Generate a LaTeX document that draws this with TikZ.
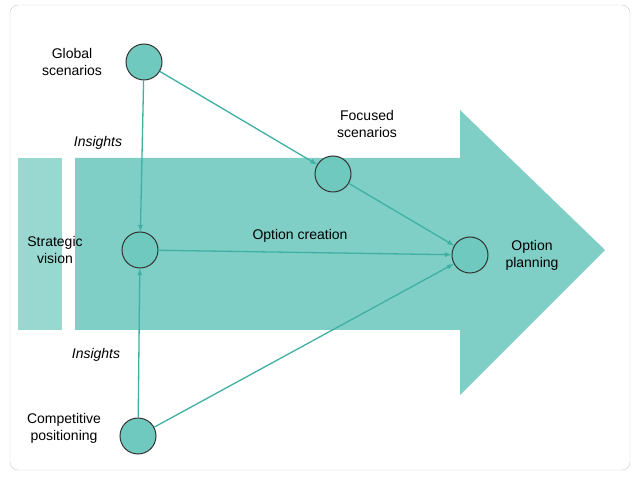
\documentclass[tikz,border=0pt]{standalone}
\usepackage{fontspec}
\setmainfont{Liberation Sans}
\begin{document}
\begin{tikzpicture}[x=1pt,y=-1pt,
  dot/.style={circle,minimum size=36pt,inner sep=0pt,fill=dotc,draw=black!80,line width=1pt},
  lbl/.style={align=center,font=\fontsize{14}{17}\selectfont},
  conn/.style={draw=linec,line width=1.3pt,-latex}]
\definecolor{arr}{HTML}{7FCFC6}
\definecolor{dotc}{HTML}{6FC9BF}
\definecolor{linec}{HTML}{3FB0A3}
\useasboundingbox (0,0) rectangle (638,478);
\fill[white] (0,0) rectangle (638,478);
\draw[black!20,rounded corners=8pt] (10,5) rectangle (630,470);
\fill[arr!80] (18,158) rectangle (62,330);
\fill[arr] (75,158) -- (460,158) -- (460,110) -- (605,250) -- (460,395) -- (460,330) -- (75,330) -- cycle;
\node[dot] (g) at (144,62) {};
\node[dot] (f) at (333,174) {};
\node[dot] (s) at (140,250) {};
\node[dot] (o) at (470,255) {};
\node[dot] (c) at (138,436) {};
\node[lbl] (lg) at (72,62) {Global\\scenarios};
\node[lbl,font=\fontsize{14}{17}\selectfont\itshape] (i1) at (98,143) {Insights};
\node[lbl] (lf) at (367,124) {Focused\\scenarios};
\node[lbl] (ls) at (55,250) {Strategic\\vision};
\node[lbl] (lo) at (300,236) {Option creation};
\node[lbl] (lp) at (532,255) {Option\\planning};
\node[lbl,font=\fontsize{14}{17}\selectfont\itshape] (i2) at (96,355) {Insights};
\node[lbl] (lc) at (64,428) {Competitive\\positioning};
\draw[conn] (g) -- (f);
\draw[conn] (g) -- (s);
\draw[conn] (c) -- (s);
\draw[conn] (s) -- (o);
\draw[conn] (f) -- (o);
\draw[conn] (c) -- (o);
\end{tikzpicture}
\end{document}
